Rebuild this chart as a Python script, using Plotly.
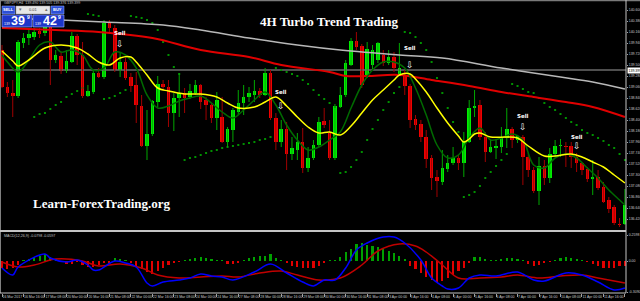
import plotly.graph_objects as go

W, H = 640, 301

# ---------------- data (GBPJPY H4) ----------------
open_ = [139.80, 139.06, 138.94, 138.88, 139.94, 140.04, 140.06, 140.18, 140.14, 140.30,
         139.60, 139.68, 139.38, 139.56, 140.08, 139.70, 138.88, 138.96, 139.34, 139.26,
         140.34, 140.24, 139.40, 139.56, 139.26, 139.10, 138.68, 137.88, 138.12, 138.76,
         139.12, 139.06, 138.54, 138.84, 138.94, 138.86, 138.94, 139.10, 138.80, 138.70,
         138.44, 138.46, 137.96, 138.20, 138.56, 138.74, 138.86, 138.90, 138.98, 138.90,
         139.34, 138.44, 137.96, 138.22, 137.72, 137.80, 137.96, 137.44, 137.64, 137.90,
         138.38, 138.14, 137.64, 138.66, 138.90, 139.50, 139.98, 139.88, 139.30, 139.50,
         139.60, 139.70, 139.54, 139.66, 139.32, 139.30, 139.08, 138.42, 138.32, 138.06,
         137.64, 137.26, 137.16, 137.42, 137.54, 137.64, 137.54, 137.96, 138.64, 138.70,
         138.06, 137.76, 137.84, 137.86, 138.04, 138.22, 138.00, 138.06, 137.66, 137.40,
         136.98, 137.48, 137.24, 137.72, 137.88, 137.88, 137.88, 137.66, 137.54, 137.42,
         137.22, 137.26, 137.06, 136.80, 136.66, 136.32, 136.32]
high = [139.90, 139.16, 139.20, 140.00, 140.14, 140.20, 140.24, 140.24, 140.32, 140.36,
        139.80, 139.76, 139.80, 140.16, 140.12, 139.96, 139.10, 139.40, 139.44, 140.40,
        140.40, 140.30, 139.76, 139.64, 139.34, 139.36, 138.90, 138.60, 138.80, 139.28,
        139.20, 139.20, 138.94, 139.34, 139.04, 139.12, 139.20, 139.12, 138.86, 138.74,
        138.96, 138.86, 138.26, 138.64, 139.00, 139.10, 139.06, 139.20, 139.04, 139.44,
        139.40, 138.54, 138.40, 138.36, 138.06, 138.14, 138.24, 137.86, 138.00, 138.46,
        138.64, 138.40, 138.72, 139.06, 139.60, 140.04, 140.16, 139.92, 139.96, 139.90,
        139.96, 139.80, 139.80, 139.76, 139.94, 139.40, 139.12, 138.50, 138.40, 138.20,
        137.70, 137.40, 137.80, 137.70, 137.86, 137.70, 138.16, 138.80, 139.00, 138.80,
        138.16, 138.00, 138.02, 138.26, 138.64, 138.26, 138.10, 138.10, 137.74, 137.46,
        137.66, 137.60, 137.84, 138.00, 138.02, 137.96, 137.96, 137.74, 137.56, 137.46,
        137.60, 137.40, 137.16, 136.86, 136.70, 136.44, 137.02]
low = [139.04, 138.86, 138.46, 138.84, 139.84, 139.90, 140.00, 140.04, 140.08, 139.10,
       139.54, 139.32, 139.34, 139.54, 139.50, 138.84, 138.86, 138.92, 139.24, 139.22,
       140.16, 139.36, 139.26, 139.20, 138.96, 138.34, 137.86, 137.60, 138.08, 138.66,
       138.98, 138.26, 138.18, 138.46, 138.54, 138.82, 138.90, 138.62, 138.40, 138.34,
       138.20, 137.94, 137.86, 137.96, 138.50, 138.50, 138.76, 138.76, 138.84, 138.88,
       138.40, 137.80, 137.86, 137.40, 137.60, 137.60, 137.34, 137.36, 137.60, 137.86,
       138.24, 137.60, 137.60, 138.64, 138.86, 139.48, 139.80, 139.04, 139.24, 139.40,
       139.54, 139.48, 139.50, 139.36, 139.28, 138.90, 138.24, 138.20, 137.96, 137.44,
       137.00, 136.86, 137.10, 137.36, 137.50, 137.40, 137.26, 137.94, 138.46, 138.00,
       137.56, 137.74, 137.62, 137.74, 137.84, 137.84, 137.94, 137.10, 137.26, 136.94,
       136.70, 137.10, 137.14, 137.66, 137.66, 137.46, 137.44, 137.36, 137.30, 137.16,
       136.90, 137.00, 136.74, 136.54, 136.30, 136.26, 136.30]
close = [139.06, 138.94, 138.88, 139.96, 140.04, 140.12, 140.16, 140.12, 140.26, 139.60,
         139.70, 139.38, 139.58, 140.08, 139.70, 138.88, 138.98, 139.34, 139.26, 140.34,
         140.24, 139.40, 139.56, 139.24, 139.08, 138.70, 137.88, 138.12, 138.78, 139.12,
         139.06, 138.54, 138.84, 138.94, 138.84, 138.98, 139.10, 138.76, 138.70, 138.44,
         138.80, 137.96, 138.22, 138.60, 138.74, 138.86, 138.94, 138.98, 138.90, 139.34,
         138.44, 137.96, 138.22, 137.72, 137.84, 137.96, 137.44, 137.64, 137.90, 138.36,
         138.30, 137.64, 138.68, 138.90, 139.54, 139.98, 139.86, 139.10, 139.82, 139.80,
         139.94, 139.54, 139.66, 139.44, 139.44, 139.08, 138.40, 138.30, 138.06, 137.62,
         137.24, 137.18, 137.44, 137.54, 137.64, 137.54, 137.98, 138.64, 138.68, 138.06,
         137.76, 137.86, 137.88, 138.04, 138.22, 138.00, 138.08, 137.66, 137.40, 136.98,
         137.48, 137.24, 137.72, 137.88, 137.90, 137.86, 137.66, 137.54, 137.40, 137.22,
         137.26, 137.04, 136.76, 136.62, 136.34, 136.30, 136.70]

# Parabolic SAR (None where not visible)
sar = [None] * 6 + [
    138.46, 138.52, 138.54, 138.62, 138.70, 138.76, 138.86, 138.92, 138.98, 139.04,
    140.52, 140.50, 140.48,
    138.82, 138.84, 138.88, 138.94, 139.00,
    140.48, 140.46, 140.44, 140.40, 140.34, 140.20, 139.96, 139.70, 139.46, 139.32,
    137.60, 137.64, 137.66, 137.70, 137.74, 137.78, 137.80, 137.84, 137.86, 137.88,
    137.90, 137.92, 137.94, 137.96, 138.00, 138.02, 138.06,
    139.44, 139.40, 139.36, 139.32, 139.28, 139.20, 139.12, 139.00, 138.90, 138.82, 138.74, 138.66,
    137.34, 137.36, 137.46, 137.60, 137.76, 138.00, 138.22, 138.40, 138.60, 138.76, 138.94, 139.06,
    140.16, 140.14, 140.06, 139.94, 139.80, 139.56, 139.24, 138.94, 138.64, 138.36, 138.16,
    136.86, 136.90, 136.96, 137.08, 137.24, 137.36, 137.48, 137.60, 137.72,
    139.12, 139.08, 139.02, 138.96, 138.94, 138.84, 138.74, 138.66, 138.60, 138.52, 138.44,
    138.36, 138.30, 138.20, 138.14, 138.10, 138.04, 137.98, 137.90, 137.84, 137.72, 137.60]

# moving averages read at candle indices
yellow_idx = [0, 2, 3, 5, 8, 11, 14, 16, 18, 20, 22, 24, 25, 27, 29, 31, 34, 37, 40, 42, 44, 47,
              49, 51, 53, 55, 57, 59, 61, 63, 65, 67, 69, 71, 73, 74, 76, 77, 79, 81, 83, 85,
              86, 87, 88, 89, 91, 94, 96, 98, 101, 103, 106, 108, 110, 112, 114, 116]
yellow_val = [139.78, 139.58, 139.48, 139.60, 139.84, 139.90, 139.84, 139.72, 139.56, 139.50,
              139.64, 139.66, 139.56, 139.30, 139.04, 138.98, 138.92, 138.92, 138.86, 138.74,
              138.64, 138.66, 138.76, 138.86, 138.68, 138.46, 138.26, 138.14, 138.16, 138.10,
              138.28, 138.54, 138.80, 139.00, 139.20, 139.30, 139.32, 139.22, 138.96, 138.64,
              138.34, 138.08, 137.96, 138.02, 138.12, 138.14, 138.06, 138.06, 138.04, 137.88,
              137.68, 137.68, 137.72, 137.66, 137.56, 137.46, 137.30, 137.14]
green_idx = [0, 1, 3, 5, 7, 9, 11, 13, 15, 17, 19, 21, 23, 25, 27, 29, 31, 33, 35, 37, 39, 41,
             43, 45, 47, 49, 51, 53, 55, 57, 59, 61, 63, 65, 67, 69, 71, 73, 75, 77, 79, 81,
             83, 85, 87, 89, 91, 93, 95, 97, 99, 101, 103, 105, 107, 109, 111, 113, 115, 116]
green_val = [139.70, 139.56, 139.36, 139.60, 139.90, 139.96, 139.76, 139.80, 139.70, 139.40,
             139.44, 139.76, 139.70, 139.44, 138.90, 138.64, 138.68, 138.78, 138.84, 138.88,
             138.74, 138.56, 138.44, 138.60, 138.80, 138.96, 138.70, 138.30, 138.00, 137.80,
             137.86, 138.00, 138.16, 138.64, 139.10, 139.40, 139.56, 139.56, 139.44, 139.04,
             138.50, 137.90, 137.64, 137.70, 138.04, 138.24, 138.00, 138.04, 138.12, 138.00,
             137.50, 137.44, 137.64, 137.72, 137.64, 137.44, 137.24, 137.00, 136.80, 136.70]
red_idx = [0, 10, 18, 28, 37, 46, 52, 61, 64, 68, 74, 80, 87, 93, 99, 105, 110, 116]
red_val = [140.24, 140.20, 140.16, 140.04, 139.80, 139.66, 139.50, 139.36, 139.28, 139.28,
           139.30, 139.20, 139.08, 138.96, 138.86, 138.76, 138.66, 138.46]
gray_idx = [0, 11, 19, 30, 37, 46, 55, 63, 74, 82, 93, 104, 110, 116]
gray_val = [140.44, 140.40, 140.36, 140.30, 140.20, 140.04, 139.90, 139.80, 139.70, 139.64,
            139.44, 139.26, 139.16, 139.02]

bid = 139.40

# Sell signals
sell_idx = [22, 52, 76, 97, 107]
sell_arrow = [139.92, 138.68, 139.50, 138.26, 137.88]
sell_text = [140.14, 138.96, 139.84, 138.48, 138.06]

# MACD(12,26,9)
hist = [-0.07, -0.08, -0.07, -0.04, 0.01, 0.02, 0.04, 0.05, 0.07, 0.04,
        0.02, -0.01, -0.03, -0.03, -0.01, -0.04, -0.06, -0.06, -0.04, -0.02,
        -0.02, 0.03, 0.02, 0.01, -0.02, -0.05, -0.08, -0.11, -0.13, -0.10,
        -0.07, -0.04, -0.02, -0.01, 0.01, 0.02, 0.03, 0.04, 0.03, 0.02,
        0.01, 0.01, -0.03, -0.03, -0.02, 0.01, 0.03, 0.04, 0.05, 0.05,
        0.07, 0.03, 0.005, -0.02, -0.05, -0.06, -0.07, -0.07, -0.07, -0.05,
        -0.02, 0.01, 0.01, 0.04, 0.09, 0.12, 0.17, 0.18, 0.16, 0.15,
        0.14, 0.12, 0.10, 0.08, 0.05, 0.02, -0.05, -0.08, -0.12, -0.16,
        -0.19, -0.21, -0.20, -0.17, -0.14, -0.10, -0.07, -0.02, 0.04, 0.04,
        0.02, 0.01, 0.01, 0.02, 0.03, 0.03, 0.02, 0.01, -0.03, -0.05,
        -0.04, -0.02, -0.005, 0.01, 0.03, 0.04, 0.03, 0.02, 0.01, -0.01,
        -0.03, -0.05, -0.07, -0.07, -0.07, -0.05, -0.05]
macd_idx = [0, 2, 3, 8, 9, 12, 14, 16, 17, 18, 21, 23, 25, 27, 28, 30, 33, 35, 37, 39, 41, 43,
            47, 50, 53, 56, 58, 60, 62, 64, 66, 68, 71, 73, 75, 78, 80, 82, 83, 85, 87, 89,
            92, 96, 99, 101, 105, 108, 111, 114, 116]
macd_val = [-0.07, -0.14, -0.06, 0.07, 0.03, -0.01, 0.01, -0.04, -0.09, -0.09, 0.00, -0.02,
            -0.06, -0.22, -0.25, -0.21, -0.19, -0.17, -0.13, -0.15, -0.16, -0.19, -0.11, -0.03,
            -0.12, -0.21, -0.25, -0.19, -0.19, -0.07, 0.11, 0.18, 0.24, 0.24, 0.18, 0.01,
            -0.17, -0.25, -0.28, -0.27, -0.17, -0.14, -0.15, -0.11, -0.19, -0.20, -0.12, -0.14,
            -0.21, -0.29, -0.27]
signal_idx = [0, 3, 6, 10, 15, 18, 22, 26, 29, 33, 37, 41, 44, 48, 52, 55, 59, 63, 67, 70, 74,
              77, 79, 82, 85, 89, 93, 96, 100, 104, 108, 111, 116]
signal_val = [-0.01, -0.06, -0.04, 0.02, 0.00, -0.05, -0.03, -0.07, -0.14, -0.17, -0.16, -0.15,
              -0.16, -0.12, -0.10, -0.14, -0.19, -0.17, -0.04, 0.10, 0.17, 0.15, 0.09, -0.04,
              -0.17, -0.17, -0.16, -0.14, -0.17, -0.15, -0.14, -0.17, -0.22]

# axis labels
price_ticks = [140.600, 140.380, 140.160, 139.940, 139.720, 139.500, 139.280, 139.060, 138.840,
               138.620, 138.400, 138.180, 137.960, 137.740, 137.520, 137.300, 137.080, 136.860,
               136.640, 136.420]
time_labels = ["16 Mar 2017", "16 Mar 16:00", "17 Mar 08:00", "20 Mar 00:00", "20 Mar 16:00",
               "21 Mar 08:00", "22 Mar 00:00", "22 Mar 16:00", "23 Mar 08:00", "24 Mar 00:00",
               "24 Mar 16:00", "27 Mar 08:00", "28 Mar 00:00", "28 Mar 16:00", "29 Mar 08:00",
               "30 Mar 00:00", "30 Mar 16:00", "31 Mar 08:00", "3 Apr 00:00", "3 Apr 16:00",
               "4 Apr 08:00", "5 Apr 00:00", "5 Apr 16:00", "6 Apr 08:00", "7 Apr 00:00",
               "7 Apr 16:00", "10 Apr 08:00", "11 Apr 00:00", "11 Apr 16:00", "12 Apr 08:00"]
macd_ticks = [0.26, 0.0, -0.31]
macd_ticktext = ["0.2598", "0.00", "-0.3090"]

# ---------------- figure ----------------
n = len(close)
idx = list(range(n))


def px(x):
    return x / W


def py(y):
    return 1 - y / H


fig = go.Figure()

# bid line
fig.add_trace(go.Scatter(x=[-1, n + 1], y=[bid, bid], mode="lines",
                         line=dict(color="#6a6a6a", width=1.5), hoverinfo="skip"))

# SAR dots
fig.add_trace(go.Scatter(x=idx, y=sar, mode="markers",
                         marker=dict(symbol="square", size=2, color="#009000"),
                         hoverinfo="skip"))

up = [i for i in idx if close[i] >= open_[i]]
dn = [i for i in idx if close[i] < open_[i]]


def wick_xy(sel):
    xs, ys = [], []
    for i in sel:
        xs += [i, i, None]
        ys += [low[i], high[i], None]
    return xs, ys


for sel, wc, bc in [(up, "#00a800", "#00ee00"), (dn, "#a00000", "#f00000")]:
    wx, wy = wick_xy(sel)
    fig.add_trace(go.Scatter(x=wx, y=wy, mode="lines", line=dict(color=wc, width=1),
                             hoverinfo="skip"))
    fig.add_trace(go.Bar(x=sel,
                         y=[max(abs(close[i] - open_[i]), 0.018) for i in sel],
                         base=[min(close[i], open_[i]) for i in sel],
                         width=0.66, marker=dict(color=bc, line=dict(width=0)),
                         hoverinfo="skip"))

# moving averages
fig.add_trace(go.Scatter(x=gray_idx, y=gray_val, mode="lines",
                         line=dict(color="#b8b8b8", width=1.5, shape="spline"), hoverinfo="skip"))
fig.add_trace(go.Scatter(x=red_idx, y=red_val, mode="lines",
                         line=dict(color="#e00000", width=2, shape="spline"), hoverinfo="skip"))
fig.add_trace(go.Scatter(x=green_idx, y=green_val, mode="lines",
                         line=dict(color="#006a00", width=1.5, shape="spline"), hoverinfo="skip"))
fig.add_trace(go.Scatter(x=yellow_idx, y=yellow_val, mode="lines",
                         line=dict(color="#ffff00", width=1.5, shape="spline"), hoverinfo="skip"))

# MACD panel
fig.add_trace(go.Bar(x=idx, y=hist, width=0.4, xaxis="x2", yaxis="y2",
                     marker=dict(color=["#00a000" if v >= 0 else "#e00000" for v in hist],
                                 line=dict(width=0)), hoverinfo="skip"))
fig.add_trace(go.Scatter(x=signal_idx, y=signal_val, mode="lines", xaxis="x2", yaxis="y2",
                         line=dict(color="#c00000", width=1.5, shape="spline"), hoverinfo="skip"))
fig.add_trace(go.Scatter(x=macd_idx, y=macd_val, mode="lines", xaxis="x2", yaxis="y2",
                         line=dict(color="#0000ff", width=1.5, shape="spline"), hoverinfo="skip"))

xdom = [0, 626 / W]
xr = [-0.372, 116.2]
tickfont = dict(family="Liberation Sans", size=3.5, color="#c8c8c8")

fig.update_layout(
    width=W, height=H, margin=dict(l=0, r=0, t=0, b=0),
    paper_bgcolor="black", plot_bgcolor="black", showlegend=False,
    barmode="overlay", bargap=0,
    xaxis=dict(domain=xdom, range=xr, showticklabels=False, showgrid=False, zeroline=False,
               ticks="", anchor="y", automargin=False, fixedrange=True),
    yaxis=dict(domain=[py(230), py(2)], range=[136.20, 140.76], side="right",
               tickvals=price_ticks, ticktext=[f"{v:.3f}" for v in price_ticks],
               ticks="outside", ticklen=1, tickcolor="#a0a0a0", tickfont=tickfont,
               showgrid=False, zeroline=False, automargin=False, anchor="x"),
    xaxis2=dict(domain=xdom, range=xr, anchor="y2", tickvals=list(range(0, n, 4)),
                ticktext=time_labels, ticks="outside", ticklen=3, tickcolor="#a0a0a0",
                ticklabelposition="outside right", tickfont=tickfont, tickangle=0,
                showgrid=False, zeroline=False, automargin=False),
    yaxis2=dict(domain=[py(293), py(233)], range=[-0.32, 0.28], side="right",
                tickvals=macd_ticks, ticktext=macd_ticktext, ticks="outside", ticklen=1,
                tickcolor="#a0a0a0", tickfont=tickfont, showgrid=False, zeroline=False,
                automargin=False, anchor="x2"),
)

# frame lines
frame = "#c4c4c4"
shapes = [
    dict(type="line", xref="paper", yref="paper", x0=0, x1=1, y0=py(0.5), y1=py(0.5),
         line=dict(color="#7a7a7a", width=1.5)),
    dict(type="line", xref="paper", yref="paper", x0=px(0.5), x1=px(0.5), y0=py(0), y1=py(293),
         line=dict(color="#808080", width=1)),
    dict(type="line", xref="paper", yref="paper", x0=px(626), x1=px(626), y0=py(0), y1=py(293),
         line=dict(color=frame, width=1)),
    dict(type="line", xref="paper", yref="paper", x0=0, x1=px(626), y0=py(231), y1=py(231),
         line=dict(color=frame, width=2)),
    dict(type="line", xref="paper", yref="paper", x0=0, x1=px(626), y0=py(293), y1=py(293),
         line=dict(color=frame, width=1)),
    # one-click trading panel
    dict(type="rect", xref="paper", yref="paper", x0=px(2), x1=px(15), y0=py(14), y1=py(6),
         fillcolor="#2c4fd6", line=dict(color="#9fb2ff", width=0.5)),
    dict(type="rect", xref="paper", yref="paper", x0=px(16), x1=px(50), y0=py(14), y1=py(6),
         fillcolor="#e6e6e6", line=dict(color="#9a9a9a", width=0.5)),
    dict(type="rect", xref="paper", yref="paper", x0=px(51), x1=px(64), y0=py(14), y1=py(6),
         fillcolor="#2c4fd6", line=dict(color="#9fb2ff", width=0.5)),
    dict(type="rect", xref="paper", yref="paper", x0=px(2), x1=px(32), y0=py(27), y1=py(15),
         fillcolor="#1d36c9", line=dict(color="#a8b6ff", width=0.6)),
    dict(type="rect", xref="paper", yref="paper", x0=px(33), x1=px(64), y0=py(27), y1=py(15),
         fillcolor="#1d36c9", line=dict(color="#a8b6ff", width=0.6)),
]
fig.update_layout(shapes=shapes)

ann = []


def txt(x, y, s, size, color="white", family="Liberation Sans", xanchor="center", bold=False):
    ann.append(dict(xref="paper", yref="paper", x=px(x), y=py(y), text=("<b>%s</b>" % s) if bold else s,
                    showarrow=False, xanchor=xanchor, yanchor="middle", borderpad=0,
                    font=dict(family=family, size=size, color=color)))


txt(3, 3.2, "GBPJPY,H4  139.490 139.505 139.376 139.399", 3.6, "#c0c0c0", xanchor="left")
txt(8.5, 10, "SELL", 4, bold=True)
txt(57.5, 10, "BUY", 4, bold=True)
txt(33, 10, "0.01", 4, "#404040")
txt(20, 10, "▾", 4.5, "#707070")
txt(46, 10, "▴", 4.5, "#707070")
txt(2.8, 23.5, "139", 3.5, xanchor="left")
txt(18, 21, "39", 12.5, bold=True)
txt(28, 17.5, "9", 5, bold=True)
txt(33.8, 23.5, "139", 3.5, xanchor="left")
txt(49.5, 21, "42", 12.5, bold=True)
txt(59.5, 17.5, "9", 5, bold=True)
txt(3, 236, "MACD(12,26,9) -0.0798 -0.0597", 3.6, "#c0c0c0", xanchor="left")
txt(329, 21, "4H Turbo Trend Trading", 13, family="Liberation Serif", bold=True)
txt(102, 203, "Learn-ForexTrading.org", 13, family="Liberation Serif", bold=True)

# bid label on price scale
ann.append(dict(xref="paper", yref="y", x=px(626.5), y=bid, text="139.399", showarrow=False,
                xanchor="left", yanchor="middle", bgcolor="#ffffff", borderpad=0.5,
                font=dict(family="Liberation Sans", size=3.5, color="#000000")))

# sell signals
for i, pa, pt in zip(sell_idx, sell_arrow, sell_text):
    ann.append(dict(x=i, y=pt, xref="x", yref="y", text="<b>Sell</b>", showarrow=False,
                    font=dict(family="DejaVu Sans", size=5.5, color="white")))
    ann.append(dict(x=i, y=pa, xref="x", yref="y", text="⇩", showarrow=False,
                    font=dict(family="DejaVu Sans", size=9, color="white")))

fig.update_layout(annotations=ann)

fig.write_html("out.html")
